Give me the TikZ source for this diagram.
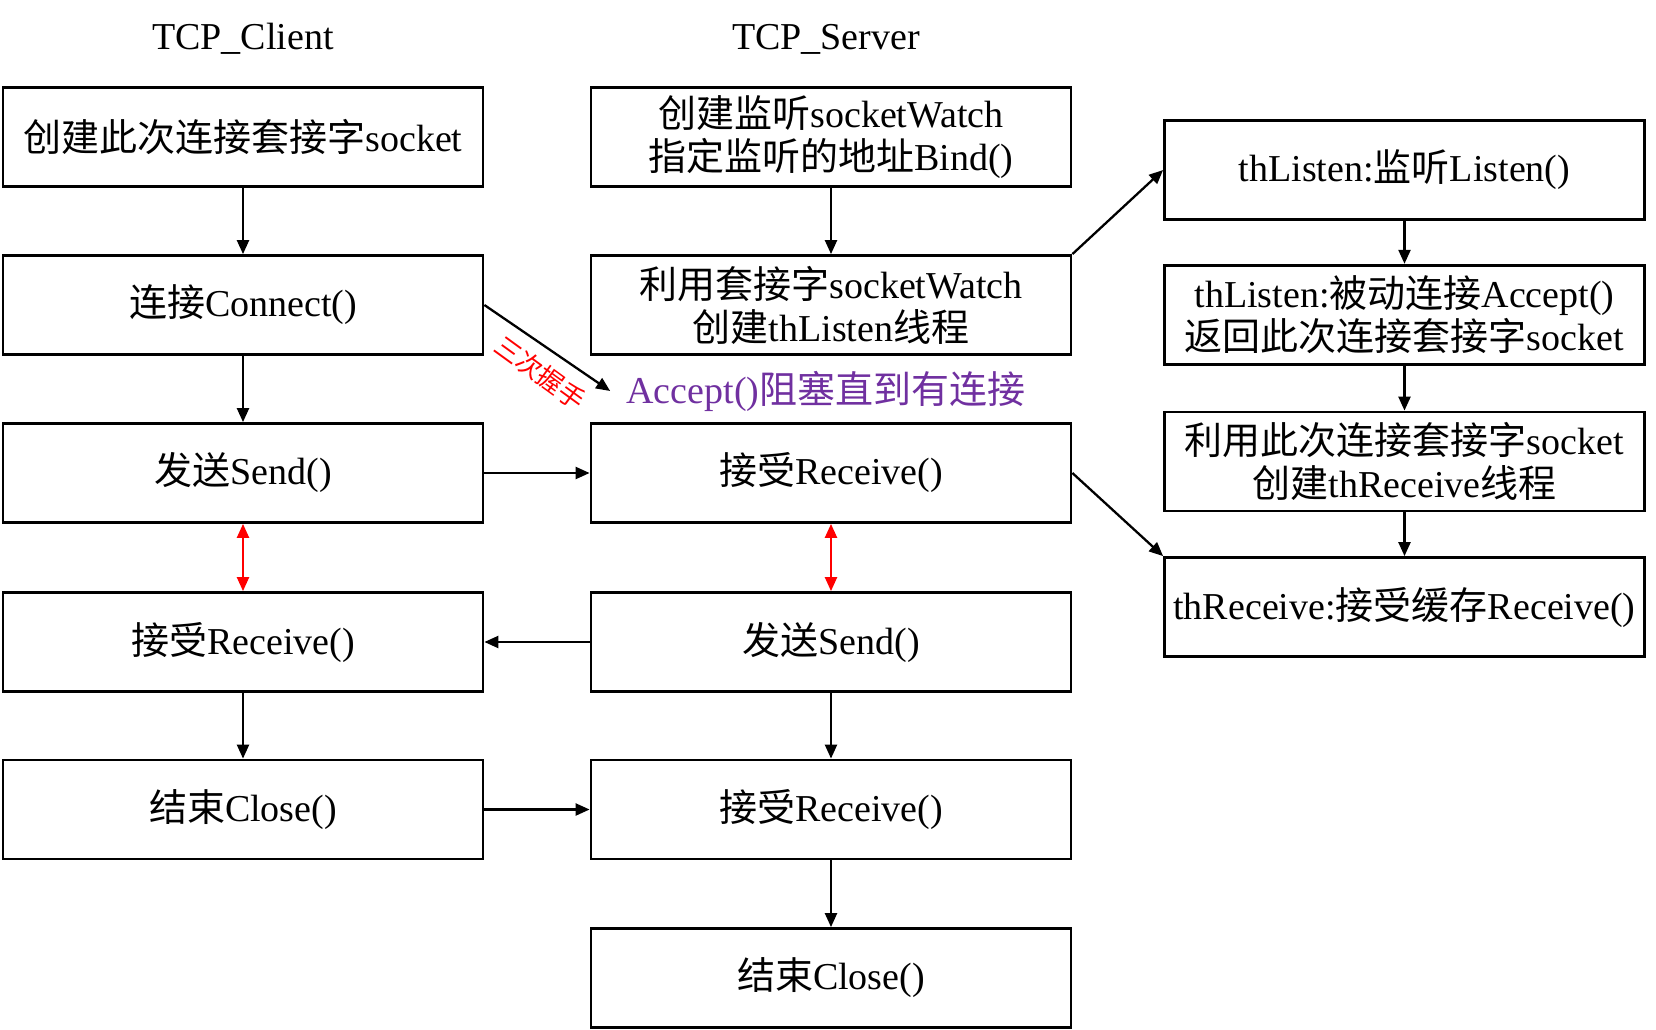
\documentclass[tikz,border=0pt]{standalone}
\usepackage{fontspec}
\setmainfont{Liberation Serif}
\newfontfamily\cjk{Noto Sans CJK SC}
\usetikzlibrary{arrows.meta}
\newcommand\zh[1]{{\cjk #1}}
\definecolor{accpurple}{RGB}{112,48,160}
\begin{document}
\begin{tikzpicture}[x=0.5pt,y=-0.5pt,
  box/.style={draw, line width=1.4pt, minimum width=240pt, minimum height=49.5pt,
    align=center, inner sep=0pt, font=\fontsize{19}{21.5}\selectfont},
  ttl/.style={font=\fontsize{19}{21.5}\selectfont},
  arr/.style={-{Triangle[length=7pt,width=6pt]}, line width=1.15pt},
  redarr/.style={{Triangle[length=7pt,width=6pt]}-{Triangle[length=7pt,width=6pt]}, line width=1.15pt, red}]
\useasboundingbox (0,0) rectangle (1656,1029);
\node[ttl] (t1) at (243,39) {TCP\_Client};
\node[ttl] (t2) at (826,39) {TCP\_Server};
\node[box] (c1) at (243,137) {\zh{创建此次连接套接字}socket};
\node[box] (c2) at (243,305) {\zh{连接}Connect()};
\node[box] (c3) at (243,473) {\zh{发送}Send()};
\node[box] (c4) at (243,642) {\zh{接受}Receive()};
\node[box] (c5) at (243,809.5) {\zh{结束}Close()};
\node[box] (s1) at (831,137) {\zh{创建监听}socketWatch\\\zh{指定监听的地址}Bind()};
\node[box] (s2) at (831,305) {\zh{利用套接字}socketWatch\\\zh{创建}thListen\zh{线程}};
\node[ttl, text=accpurple, inner sep=8pt] (acc) at (826,391) {Accept()\zh{阻塞直到有连接}};
\node[box] (s3) at (831,473) {\zh{接受}Receive()};
\node[box] (s4) at (831,642) {\zh{发送}Send()};
\node[box] (s5) at (831,809.5) {\zh{接受}Receive()};
\node[box] (s6) at (831,978) {\zh{结束}Close()};
\node[box] (r1) at (1404.5,170) {thListen:\zh{监听}Listen()};
\node[box] (r2) at (1404.5,314.7) {thListen:\zh{被动连接}Accept()\\\zh{返回此次连接套接字}socket};
\node[box] (r3) at (1404.5,461.5) {\zh{利用此次连接套接字}socket\\\zh{创建}thReceive\zh{线程}};
\node[box] (r4) at (1404.5,607) {thReceive:\zh{接受缓存}Receive()};
\node[text=red, rotate=-36, inner sep=0pt, font=\fontsize{13}{14}\selectfont] (hs) at (540,373) {\zh{三次握手}};
% client column
\draw[arr] (c1.south) -- (c2.north);
\draw[arr] (c2.south) -- (c3.north);
\draw[redarr] (c3.south) -- (c4.north);
\draw[arr] (c4.south) -- (c5.north);
% server column
\draw[arr] (s1.south) -- (s2.north);
\draw[redarr] (s3.south) -- (s4.north);
\draw[arr] (s4.south) -- (s5.north);
\draw[arr] (s5.south) -- (s6.north);
% right column
\draw[arr] (r1.south) -- (r2.north);
\draw[arr] (r2.south) -- (r3.north);
\draw[arr] (r3.south) -- (r4.north);
% cross links
\draw[arr] (c2.east) -- (acc.west);
\draw[arr] (c3.east) -- (s3.west);
\draw[arr] (s4.west) -- (c4.east);
\draw[arr] (c5.east) -- (s5.west);
\draw[arr] (s2.north east) -- (r1.west);
\draw[arr] (s3.east) -- (r4.north west);
\end{tikzpicture}
\end{document}
